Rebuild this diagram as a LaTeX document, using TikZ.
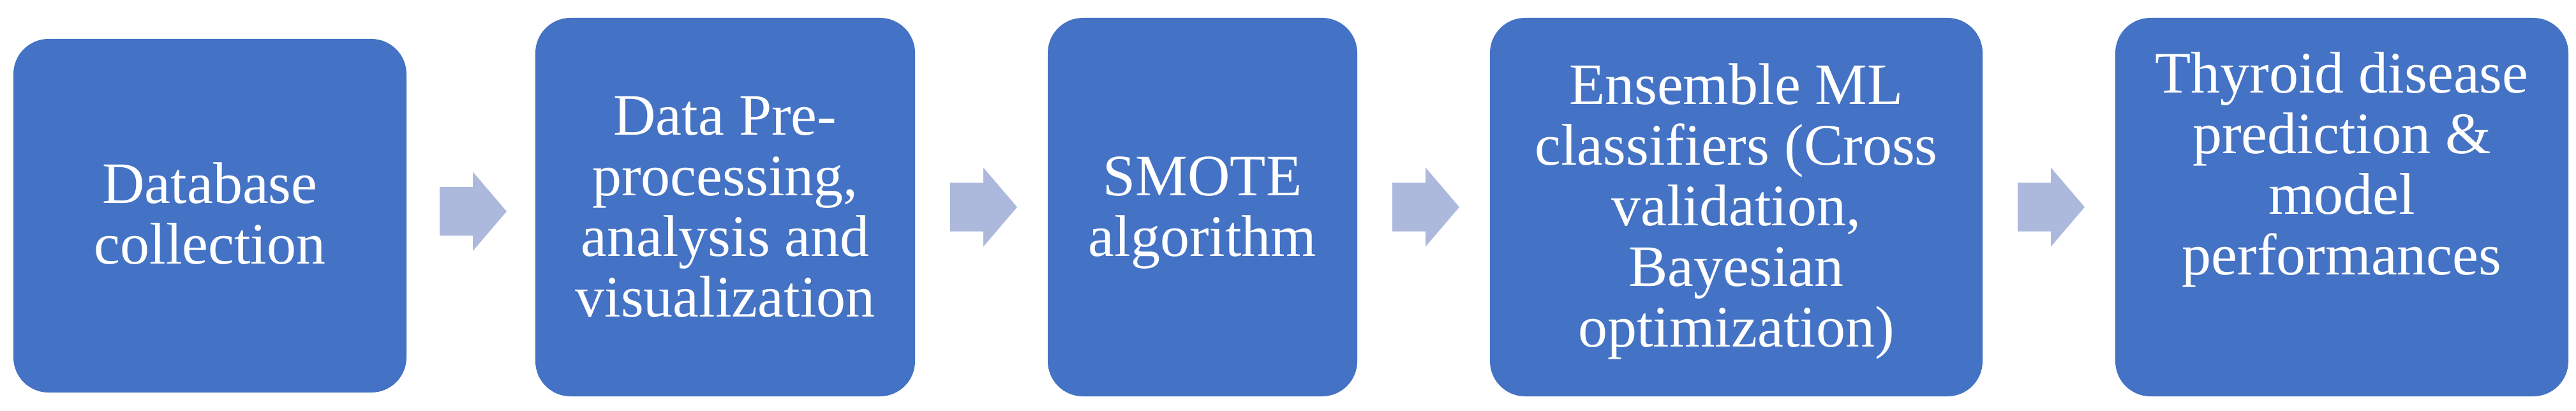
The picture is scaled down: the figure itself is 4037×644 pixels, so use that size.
\documentclass[tikz,border=0pt]{standalone}
\usepackage{fontspec}
\setmainfont{Liberation Serif}
\usetikzlibrary{calc}
\definecolor{boxblue}{HTML}{4472C4}
\definecolor{arrowblue}{HTML}{ADB9DC}
\tikzset{
  stepbox/.style={rectangle, rounded corners=55pt, fill=boxblue, draw=none, inner sep=0pt},
  steptext/.style={text=white, align=center, inner sep=0pt, anchor=base,
    font=\fontsize{92}{95}\selectfont},
  flowarrow/.style={fill=arrowblue, draw=none}
}
\newcommand{\flowarr}[3]{%
  \coordinate (#3) at ($($(#1.east)!0.5!(#2.west)$)+(3,0)$);
  \fill[flowarrow] ($(#3)+(-52,-38)$) -- ($(#3)+(0,-38)$) -- ($(#3)+(0,-62)$)
    -- ($(#3)+(53,0)$) -- ($(#3)+(0,62)$) -- ($(#3)+(0,38)$) -- ($(#3)+(-52,38)$) -- cycle;
}
\begin{document}
\begin{tikzpicture}[x=1pt,y=-1pt]
\useasboundingbox (0,0) rectangle (4037,644);
\node[stepbox, minimum width=616pt, minimum height=554pt] (b1) at (329,338) {};
\node[stepbox, minimum width=595pt, minimum height=593pt] (b2) at (1136.5,324.5) {};
\node[stepbox, minimum width=485pt, minimum height=593pt] (b3) at (1884.5,324.5) {};
\node[stepbox, minimum width=772pt, minimum height=593pt] (b4) at (2721,324.5) {};
\node[stepbox, minimum width=710pt, minimum height=593pt] (b5) at (3670,324.5) {};

\node[steptext] (t1) at (329,413) {Database\\collection};
\node[steptext] (t2) at (1136.5,496) {Data Pre-\\processing,\\analysis and\\visualization};
\node[steptext] (t3) at (1884.5,401) {SMOTE\\algorithm};
\node[steptext] (t4) at (2721,543) {Ensemble ML\\classifiers (Cross\\validation,\\Bayesian\\optimization)};
\node[steptext] (t5) at (3670,430) {Thyroid disease\\prediction \&\\model\\performances};

\flowarr{b1}{b2}{m1}
\flowarr{b2}{b3}{m2}
\flowarr{b3}{b4}{m3}
\flowarr{b4}{b5}{m4}
\end{tikzpicture}
\end{document}
